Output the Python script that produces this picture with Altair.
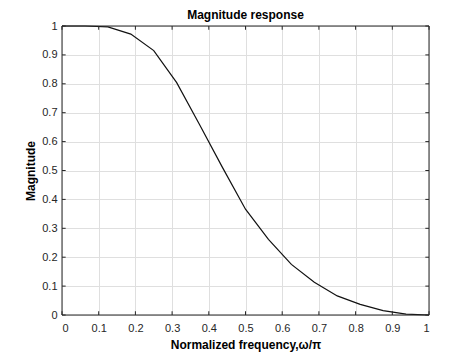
import altair as alt
import pandas as pd

# Data
freq = [0.0, 0.0625, 0.125, 0.1875, 0.25, 0.3125, 0.375, 0.4375, 0.5,
        0.5625, 0.625, 0.6875, 0.75, 0.8125, 0.875, 0.9375, 1.0]
mag = [1.0, 1.0, 0.997, 0.972, 0.915, 0.804, 0.658, 0.51, 0.366,
       0.262, 0.175, 0.113, 0.066, 0.037, 0.015, 0.003, 0.0]
tick_vals = [0, 0.1, 0.2, 0.3, 0.4, 0.5, 0.6, 0.7, 0.8, 0.9, 1]

XT = "Normalized frequency,\u03c9/\u03c0"
YT = "Magnitude"
FONT = "Liberation Sans"
AX = "#262626"

df = pd.DataFrame({"f": freq, "m": mag})
tk = pd.DataFrame({"t": tick_vals})

xs = alt.Scale(domain=[0, 1], nice=False)
ys = alt.Scale(domain=[0, 1], nice=False)


def xax():
    return alt.Axis(values=tick_vals, format="~g", tickCount=11)


def yax():
    return alt.Axis(values=tick_vals, format="~g", tickCount=11)


line = alt.Chart(df).mark_line(color="#111111", strokeWidth=1.2).encode(
    x=alt.X("f:Q", scale=xs, title=XT, axis=xax()),
    y=alt.Y("m:Q", scale=ys, title=YT, axis=yax()),
)

tick_len_x = 0.013
tick_len_y = 0.010

bottom_ticks = alt.Chart(tk).mark_rule(color=AX, strokeWidth=1).encode(
    x=alt.X("t:Q", scale=xs, title=XT, axis=xax()),
    y=alt.datum(0), y2=alt.datum(tick_len_x))
top_ticks = alt.Chart(tk).mark_rule(color=AX, strokeWidth=1).encode(
    x=alt.X("t:Q", scale=xs, title=XT, axis=xax()),
    y=alt.datum(1), y2=alt.datum(1 - tick_len_x))
left_ticks = alt.Chart(tk).mark_rule(color=AX, strokeWidth=1).encode(
    y=alt.Y("t:Q", scale=ys, title=YT, axis=yax()),
    x=alt.datum(0), x2=alt.datum(tick_len_y))
right_ticks = alt.Chart(tk).mark_rule(color=AX, strokeWidth=1).encode(
    y=alt.Y("t:Q", scale=ys, title=YT, axis=yax()),
    x=alt.datum(1), x2=alt.datum(1 - tick_len_y))

box = alt.Chart(pd.DataFrame({"a": [0]})).mark_rect(
    fill=None, stroke=AX, strokeWidth=1).encode(
    x=alt.datum(0), x2=alt.datum(1), y=alt.datum(0), y2=alt.datum(1))

chart = alt.layer(line, bottom_ticks, top_ticks, left_ticks, right_ticks, box).properties(
    width=367, height=289,
    title="Magnitude response",
    autosize="none",
    padding={"left": 54, "top": 18, "right": 30, "bottom": 40},
).configure_view(stroke=None).configure_axis(
    labelFont=FONT, labelFontSize=11, labelColor=AX,
    titleFont=FONT, titleFontSize=12, titleFontWeight="bold", titleColor="#000000",
    gridColor="#dfdfdf", gridWidth=1, domain=False, ticks=False,
).configure_axisX(labelPadding=7, titlePadding=6).configure_axisY(
    labelPadding=5, titlePadding=4
).configure_title(
    font=FONT, fontSize=12, fontWeight="bold", color="#000000", offset=-2, anchor="middle"
)

chart.save("out.html", embed_options={"renderer": "svg", "actions": False})
